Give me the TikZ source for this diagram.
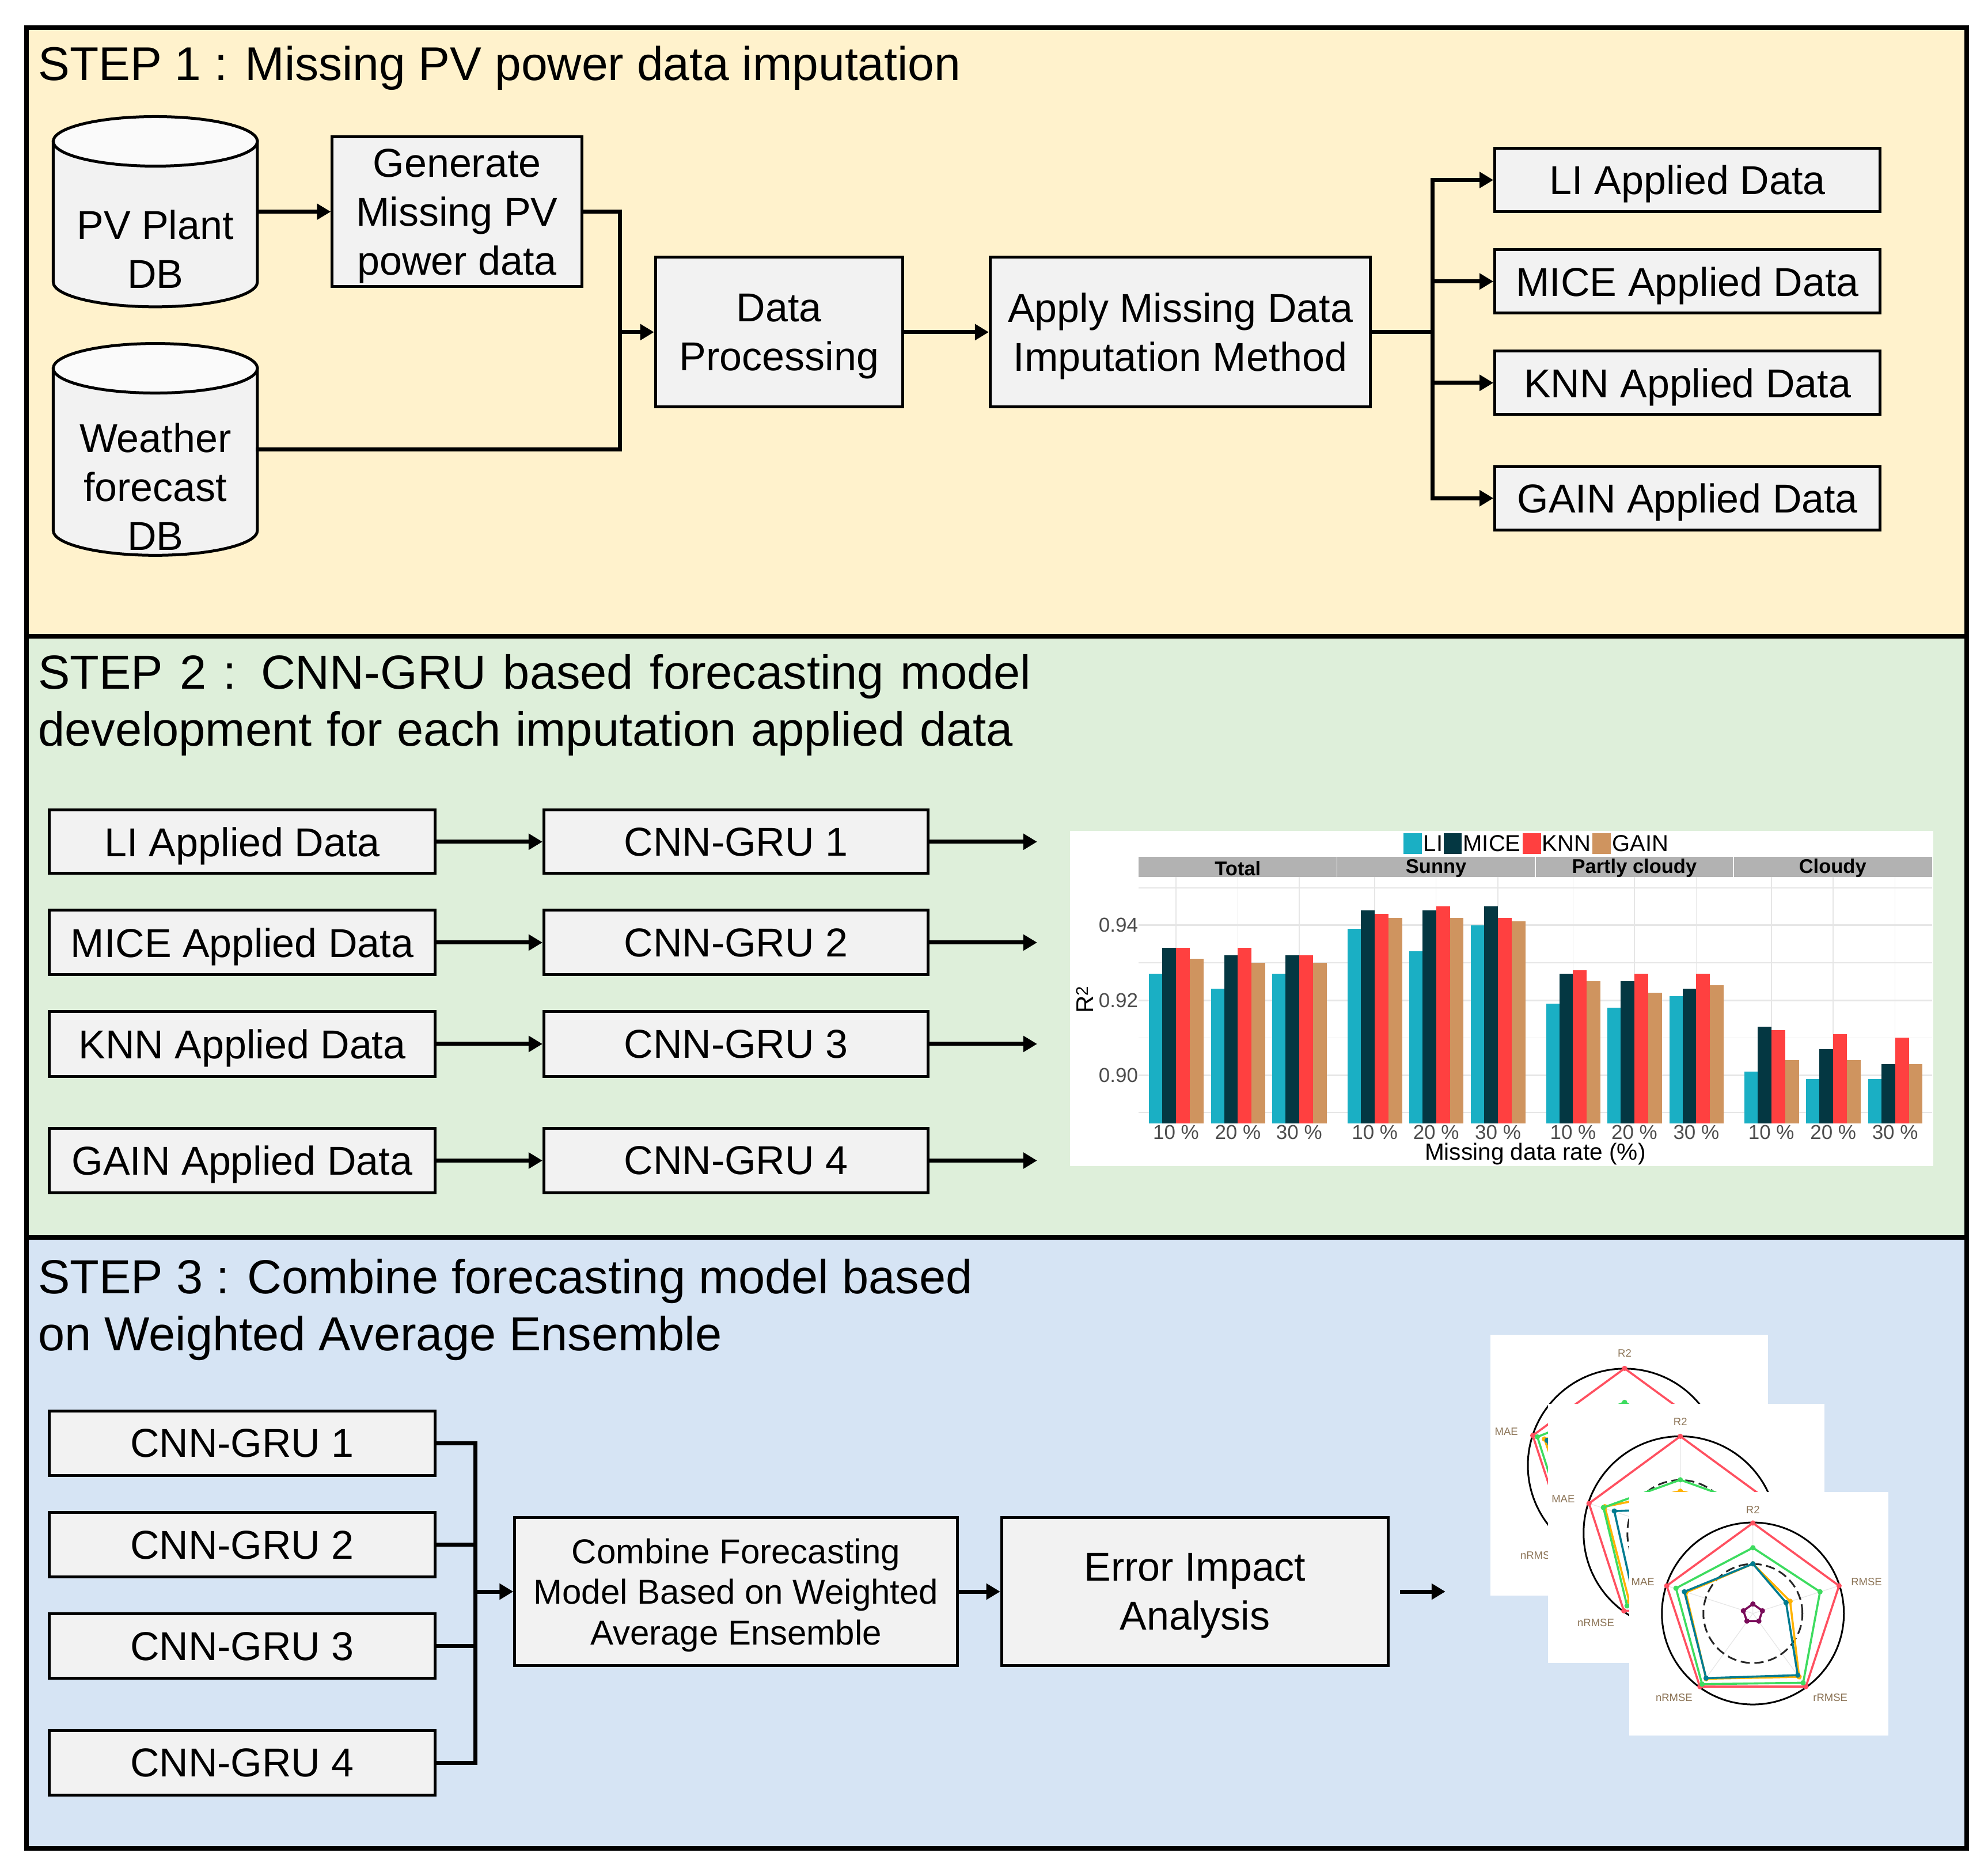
\documentclass[tikz,border=0pt]{standalone}
\usepackage{fontspec}
\setmainfont{Liberation Sans}
\usetikzlibrary{arrows.meta}
\definecolor{pA}{HTML}{FFF2CC}
\definecolor{pB}{HTML}{DEEFDA}
\definecolor{pC}{HTML}{D6E4F4}
\definecolor{boxc}{HTML}{F2F2F2}
\definecolor{cLI}{HTML}{1AAFC4}
\definecolor{cMI}{HTML}{043742}
\definecolor{cKN}{HTML}{FF4040}
\definecolor{cGA}{HTML}{CF945F}
\definecolor{gridc}{HTML}{E6E6E6}
\definecolor{tickc}{HTML}{4D4D4D}
\definecolor{rRed}{HTML}{FF5060}
\definecolor{rGreen}{HTML}{3DDC5F}
\definecolor{rTeal}{HTML}{007C91}
\definecolor{rOrange}{HTML}{FFB300}
\definecolor{rPurple}{HTML}{7A0C5A}
\definecolor{rLabel}{HTML}{8B7355}
\newcommand\fsz[2]{\fontsize{#1}{#2}\selectfont}
\tikzset{
  panel/.style={draw=black,line width=8pt},
  flowbox/.style={draw=black,fill=boxc,line width=5pt,inner sep=0pt,align=center,text depth=0pt,font=\fsz{70}{85}},
  smalltext/.style={font=\fsz{60}{70.5}},
  steptitle/.style={anchor=north west,inner sep=0pt,align=left,font=\fsz{83}{99}},
  conn/.style={line width=7pt,-{Triangle[length=24pt,width=27pt]}},
  plain/.style={line width=7pt,line cap=rect},
  cyltext/.style={inner sep=0pt,align=center,font=\fsz{70}{85}},
  ghost/.style={inner sep=0pt},
  ticklab/.style={inner sep=0pt,text=tickc,font=\fsz{35}{35}},
  striplab/.style={inner sep=0pt,font=\bfseries\fsz{34.5}{34.5}},
  radlab/.style={inner sep=0pt,text=rLabel,font=\fsz{18.5}{18.5}},
  declare function={yv(\v)=1131-(\v-900)*16.475;}
}
% name, x0, y0, x1, y1, text; optional extra style
\newcommand\bx[6][]{\node[flowbox,#1,minimum width={(#4-#2)*2.2015pt},minimum height={(#5-#3)*2.2015pt}] (#2) at ({(#3+#5)/2},{(#4+#6)/2}) {};}
\newcommand\bxx[7][]{\node[flowbox,#1,minimum width={(#5-#3)*2.2015pt},minimum height={(#6-#4)*2.2015pt}] (#2) at ({(#3+#5)/2},{(#4+#6)/2}) {#7};}
% name, x0, ytop, x1, ybot
\newcommand\cyl[5]{%
  \draw[line width=5pt,fill=boxc] (#2,#3+19.5) -- (#2,#5-19.5)
     arc[start angle=180,end angle=360,x radius=177.2pt,y radius=43pt] -- (#4,#3+19.5) -- cycle;
  \draw[line width=5pt,fill=white!60!boxc] ({(#2+#4)/2},#3+19.5) ellipse[x radius=177.2pt,y radius=43pt];
  \node[ghost,minimum width={(#4-#2)*2.2015pt},minimum height={(#5-#3)*2.2015pt}] (#1) at ({(#2+#4)/2},{(#3+#5)/2}) {};
}
% colour, five points
\newcommand\pent[6]{%
  \draw[#1,line width=3.6pt,line join=round] (#2)--(#3)--(#4)--(#5)--(#6)--cycle;
  \foreach \p in {{#2},{#3},{#4},{#5},{#6}} \fill[#1] (\p) circle[radius=4.6pt];
}
\begin{document}
\begin{tikzpicture}[x=2.2015pt,y=-2.2015pt]
\useasboundingbox (0,0) rectangle (1568,1476.7);
\fill[white] (0,0) rectangle (1568,1476.7);
% panels
\draw[panel,fill=pA] (21,22) rectangle (1551,502);
\draw[panel,fill=pB] (21,502) rectangle (1551,976);
\draw[panel,fill=pC] (21,976) rectangle (1551,1458);
% ---- step 1
\node[steptitle,font=\fsz{82.2}{99}] (t1) at (30,36) {STEP 1 : Missing PV power data imputation};
\cyl{pv}{42}{92}{203}{242}
\node[cyltext] (pvt) at (122.5,196.5) {PV Plant\\DB};
\cyl{wx}{42}{271}{203}{438}
\node[cyltext] (wxt) at (122.5,384) {Weather\\forecast\\DB};
\bxx{gen}{262}{108}{459}{226}{Generate\\Missing PV\\power data}
\bxx{dp}{517}{203}{712}{321}{Data\\Processing}
\bxx{ap}{781}{203}{1081}{321}{Apply Missing Data\\Imputation Method}
\bxx{li}{1179}{117}{1483}{167}{LI Applied Data}
\bxx{mi}{1179}{197}{1483}{247}{MICE Applied Data}
\bxx{kn}{1179}{277}{1483}{327}{KNN Applied Data}
\bxx{ga}{1179}{368}{1483}{418}{GAIN Applied Data}
\coordinate (j1) at (489,262);
\coordinate (j2) at (1130,262);
\draw[conn] (pv.east) -- (gen.west);
\draw[plain] (gen.east) -- (gen.east -| j1) -- (wx.east -| j1) -- (wx.east);
\draw[conn] (j1) -- (dp.west);
\draw[conn] (dp.east) -- (ap.west);
\draw[plain] (ap.east) -- (j2);
\draw[plain] (li.west -| j2) -- (ga.west -| j2);
\draw[conn] (li.west -| j2) -- (li.west);
\draw[conn] (mi.west -| j2) -- (mi.west);
\draw[conn] (kn.west -| j2) -- (kn.west);
\draw[conn] (ga.west -| j2) -- (ga.west);
% ---- step 2
\node[steptitle] (t2) at (30,516) {\makebox[1724pt][s]{STEP 2 : CNN-GRU based forecasting model}\\\makebox[1693pt][s]{development for each imputation applied data}};
\bxx{bli}{39}{639}{343}{689}{LI Applied Data}
\bxx{bmi}{39}{718}{343}{769}{MICE Applied Data}
\bxx{bkn}{39}{798}{343}{849}{KNN Applied Data}
\bxx{bga}{39}{890}{343}{941}{GAIN Applied Data}
\bxx{ca}{429}{639}{732}{689}{CNN-GRU 1}
\bxx{cb}{429}{718}{732}{769}{CNN-GRU 2}
\bxx{cc}{429}{798}{732}{849}{CNN-GRU 3}
\bxx{cd}{429}{890}{732}{941}{CNN-GRU 4}
\coordinate (xr) at (818,700);
\draw[conn] (bli.east) -- (ca.west);
\draw[conn] (bmi.east) -- (cb.west);
\draw[conn] (bkn.east) -- (cc.west);
\draw[conn] (bga.east) -- (cd.west);
\draw[conn] (ca.east) -- (ca.east -| xr);
\draw[conn] (cb.east) -- (cb.east -| xr);
\draw[conn] (cc.east) -- (cc.east -| xr);
\draw[conn] (cd.east) -- (cd.east -| xr);
% bar chart, in its own pixel grid
\begin{scope}[xshift=1820pt,yshift=-1420pt,x=0.995pt,y=-0.3954pt]
  \fill[white] (38,58) rectangle (1545,1530);
  \foreach \yy in {309,637,967,1295} \draw[gridc,line width=1.5pt] (158,\yy) -- (1543,\yy);
  \foreach \yy in {472,802,1131} \draw[gridc,line width=3pt] (158,\yy) -- (1543,\yy);
  \foreach \xx in {223,331,438,570,677,785,916,1023,1131,1262,1370,1478} \draw[gridc,line width=1.5pt] (\xx,260) -- (\xx,1343);
  \fill[black!30] (158,172) rectangle (1543,260);
  \foreach \xx in {504,850,1196} \draw[white,line width=1.5pt] (\xx,172) -- (\xx,260);
  \node[striplab] (s1) at (331,222) {Total};
  \node[striplab] (s2) at (677,222) {Sunny};
  \node[striplab] (s3) at (1023,222) {Partly cloudy};
  \node[striplab] (s4) at (1369,222) {Cloudy};
  \foreach \c/\a/\b/\d/\e in {
    223/927/934/934/931,331/923/932/934/930,438/927/932/932/930,
    570/939/944/943/942,677/933/944/945/942,785/940/945/942/941,
    916/919/927/928/925,1023/918/925/927/922,1131/921/923/927/924,
    1262/901/913/912/904,1370/899/907/911/904,1478/899/903/910/903}{
    \fill[cLI] ({\c-47},1343) rectangle ({\c-24},{yv(\a)});
    \fill[cMI] ({\c-24},1343) rectangle (\c,{yv(\b)});
    \fill[cKN] (\c,1343) rectangle ({\c+24},{yv(\d)});
    \fill[cGA] ({\c+24},1343) rectangle ({\c+48},{yv(\e)});
  }
  \foreach \c in {223,570,916,1262} \node[ticklab] (xa\c) at (\c,1382) {10 \%};
  \foreach \c in {331,677,1023,1370} \node[ticklab] (xb\c) at (\c,1382) {20 \%};
  \foreach \c in {438,785,1131,1478} \node[ticklab] (xc\c) at (\c,1382) {30 \%};
  \node[ticklab,anchor=east] (y94) at (157,472) {0.94};
  \node[ticklab,anchor=east] (y92) at (157,802) {0.92};
  \node[ticklab,anchor=east] (y90) at (157,1131) {0.90};
  \node[inner sep=0pt,rotate=90,font=\fsz{42}{42}] (yt) at (64,800) {R\textsuperscript{2}};
  \node[inner sep=0pt,font=\fsz{40.6}{40.6}] (xl) at (850,1478) {Missing data rate (\%)};
  \fill[cLI] (620,68) rectangle (652,160);
  \fill[cMI] (690,68) rectangle (722,160);
  \fill[cKN] (828,68) rectangle (860,160);
  \fill[cGA] (950,68) rectangle (982,160);
  \node[inner sep=0pt,anchor=west,font=\fsz{40}{40}] (l1) at (655,114) {LI};
  \node[inner sep=0pt,anchor=west,font=\fsz{40}{40}] (l2) at (724,114) {MICE};
  \node[inner sep=0pt,anchor=west,font=\fsz{40}{40}] (l3) at (862,114) {KNN};
  \node[inner sep=0pt,anchor=west,font=\fsz{40}{40}] (l4) at (984,114) {GAIN};
\end{scope}
% ---- step 3
\node[steptitle] (t3) at (30,993) {STEP 3 : Combine forecasting model based\\on Weighted Average Ensemble};
\bxx{da}{39}{1113}{343}{1164}{CNN-GRU 1}
\bxx{db}{39}{1193}{343}{1244}{CNN-GRU 2}
\bxx{dc}{39}{1273}{343}{1324}{CNN-GRU 3}
\bxx{dd}{39}{1365}{343}{1416}{CNN-GRU 4}
\bxx[smalltext]{cm}{406}{1197}{755}{1314}{Combine Forecasting\\Model Based on Weighted\\Average Ensemble}
\bxx{ei}{790}{1197}{1095}{1314}{Error Impact\\Analysis}
\coordinate (j3) at (375,1255.5);
\coordinate (f1) at (1104,1255.5);
\coordinate (f2) at (1140,1255.5);
\draw[plain] (da.east) -- (da.east -| j3) -- (dd.east -| j3) -- (dd.east);
\draw[plain] (db.east) -- (db.east -| j3);
\draw[plain] (dc.east) -- (dc.east -| j3);
\draw[conn] (j3) -- (cm.west);
\draw[conn] (cm.east) -- (ei.west);
\draw[conn] (f1) -- (f2);
% radar charts, in their own pixel grid
\begin{scope}[xshift=2560pt,yshift=-2290pt,x=0.4719pt,y=-0.4719pt]
  % back sheet
  \fill[white] (60,60) rectangle (1080,1020);
  \draw[black,line width=3pt] (553,540) circle[radius=168pt];
  \pent{rRed}{553,183}{890,430}{765,826}{345,826}{215,430}
  \pent{rGreen}{553,308}{800,445}{720,790}{345,790}{232,435}
  \pent{rOrange}{553,400}{770,450}{700,760}{370,760}{258,443}
  \pent{rTeal}{553,400}{760,455}{690,750}{380,750}{268,448}
  \node[radlab] (a1) at (553,128) {R2};
  \node[radlab] (a2) at (118,415) {MAE};
  \node[radlab] (a3) at (237,872) {nRMSE};
  % middle sheet
  \fill[white] (272,313) rectangle (1288,1268);
  \draw[gridc,line width=1.2pt] (758,433) -- (758,789) -- (422,680);
  \draw[black,line width=3pt] (758,789) circle[radius=168pt];
  \draw[black!85,line width=3pt,dash pattern=on 16pt off 8pt] (758,789) circle[radius=92pt];
  \pent{rRed}{758,433}{1095,680}{966,1075}{550,1075}{422,680}
  \pent{rOrange}{758,635}{1010,690}{950,1050}{570,1040}{480,692}
  \pent{rGreen}{758,593}{1040,695}{950,1057}{562,1057}{475,695}
  \pent{rTeal}{758,700}{1000,708}{930,1020}{585,1020}{515,708}
  \node[radlab] (b1) at (758,380) {R2};
  \node[radlab] (b2) at (327,663) {MAE};
  \node[radlab] (b3) at (447,1120) {nRMSE};
  % front sheet
  \fill[white] (570,638) rectangle (1523,1535);
  \draw[gridc,line width=1.2pt] (1025,752) -- (1025,1085) (1342,983) -- (1025,1085) (1220,1354) -- (1025,1085) (830,1354) -- (1025,1085) (708,983) -- (1025,1085);
  \draw[black,line width=3pt] (1025,1085) circle[radius=158pt];
  \draw[black!85,line width=3pt,dash pattern=on 16pt off 8pt] (1025,1085) circle[radius=86pt];
  \pent{rRed}{1025,752}{1342,983}{1220,1354}{830,1354}{708,983}
  \pent{rGreen}{1025,843}{1272,1005}{1210,1340}{838,1345}{742,992}
  \pent{rOrange}{1025,902}{1162,1040}{1195,1318}{853,1325}{778,1008}
  \pent{rTeal}{1025,902}{1147,1045}{1190,1312}{853,1323}{773,1005}
  \pent{rPurple}{1025,1050}{1060,1075}{1047,1113}{1003,1113}{990,1075}
  \node[radlab] (c1) at (1025,703) {R2};
  \node[radlab] (c2) at (1443,968) {RMSE};
  \node[radlab] (c3) at (1310,1395) {rRMSE};
  \node[radlab] (c4) at (735,1395) {nRMSE};
  \node[radlab] (c5) at (620,968) {MAE};
\end{scope}
\end{tikzpicture}
\end{document}
